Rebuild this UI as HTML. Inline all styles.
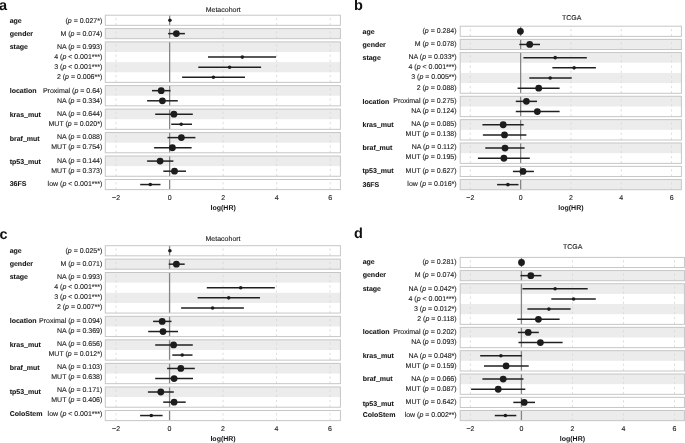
<!DOCTYPE html>
<html><head><meta charset="utf-8"><title>Forest plots</title>
<style>
html,body{margin:0;padding:0;background:#fff;}
body{width:685px;height:443px;overflow:hidden;}
svg{display:block;}
text{font-family:"Liberation Sans",Arial,Helvetica,sans-serif;text-rendering:geometricPrecision;}
.lt{font-size:14.5px;font-weight:bold;fill:#111;}
.vn{font-size:7.0px;font-weight:bold;fill:#151515;stroke:#151515;stroke-width:0.08;}
.lv{font-size:7.0px;fill:#222222;stroke:#222222;stroke-width:0.12;text-anchor:end;}
.ti{font-size:7.0px;fill:#222222;stroke:#222222;stroke-width:0.12;text-anchor:middle;}
.tk{font-size:7.0px;fill:#222222;stroke:#222222;stroke-width:0.12;text-anchor:middle;}
.ax{font-size:7.0px;font-weight:bold;fill:#151515;text-anchor:middle;}
.bx{fill:none;stroke:#c6c6c6;stroke-width:1.0;}
.gr{stroke:#dadada;stroke-width:0.9;stroke-dasharray:2.3 2.8;}
.zl{stroke:#858585;stroke-width:1.3;}
.ci{stroke:#202020;stroke-width:1.5;}
.pt{fill:#1c1c1c;}
</style></head>
<body><svg width="685" height="443" viewBox="0 0 685 443">
<rect x="0" y="0" width="685" height="443" fill="#fff"/>
<line x1="116.1" y1="25.32" x2="116.1" y2="15.2" class="gr"/>
<line x1="223.15" y1="25.32" x2="223.15" y2="15.2" class="gr"/>
<line x1="276.68" y1="25.32" x2="276.68" y2="15.2" class="gr"/>
<line x1="330.2" y1="25.32" x2="330.2" y2="15.2" class="gr"/>
<line x1="169.62" y1="15.2" x2="169.62" y2="25.32" class="zl"/>
<circle cx="169.9" cy="20.26" r="1.8" class="pt"/>
<rect x="105.3" y="15.2" width="235.1" height="10.12" class="bx"/>
<text x="9.7" y="22.86" class="vn">age</text>
<text x="102.3" y="22.56" class="lv">(<tspan font-style="italic">p</tspan> = 0.027*)</text>
<rect x="105.3" y="28.55" width="235.1" height="10.12" fill="#ececec"/>
<line x1="116.1" y1="38.67" x2="116.1" y2="28.55" class="gr"/>
<line x1="223.15" y1="38.67" x2="223.15" y2="28.55" class="gr"/>
<line x1="276.68" y1="38.67" x2="276.68" y2="28.55" class="gr"/>
<line x1="330.2" y1="38.67" x2="330.2" y2="28.55" class="gr"/>
<line x1="169.62" y1="28.55" x2="169.62" y2="38.67" class="zl"/>
<line x1="168.1" y1="33.61" x2="184.9" y2="33.61" class="ci"/>
<circle cx="176.4" cy="33.61" r="3.4" class="pt"/>
<rect x="105.3" y="28.55" width="235.1" height="10.12" class="bx"/>
<text x="9.7" y="36.14" class="vn">gender</text>
<text x="102.3" y="35.84" class="lv">M (<tspan font-style="italic">p</tspan> = 0.074)</text>
<rect x="105.3" y="41.9" width="235.1" height="10.12" fill="#ececec"/>
<rect x="105.3" y="62.14" width="235.1" height="10.12" fill="#ececec"/>
<line x1="116.1" y1="82.38" x2="116.1" y2="41.9" class="gr"/>
<line x1="223.15" y1="82.38" x2="223.15" y2="41.9" class="gr"/>
<line x1="276.68" y1="82.38" x2="276.68" y2="41.9" class="gr"/>
<line x1="330.2" y1="82.38" x2="330.2" y2="41.9" class="gr"/>
<line x1="169.62" y1="41.9" x2="169.62" y2="82.38" class="zl"/>
<line x1="208" y1="57.08" x2="276.1" y2="57.08" class="ci"/>
<circle cx="242.3" cy="57.08" r="1.8" class="pt"/>
<line x1="198.3" y1="67.2" x2="261.1" y2="67.2" class="ci"/>
<circle cx="229.6" cy="67.2" r="1.8" class="pt"/>
<line x1="182.1" y1="77.32" x2="245" y2="77.32" class="ci"/>
<circle cx="213.4" cy="77.32" r="1.8" class="pt"/>
<rect x="105.3" y="41.9" width="235.1" height="40.48" class="bx"/>
<text x="9.7" y="49.41" class="vn">stage</text>
<text x="102.3" y="49.11" class="lv">NA (<tspan font-style="italic">p</tspan> = 0.993)</text>
<text x="102.3" y="59.18" class="lv">4 (<tspan font-style="italic">p</tspan> &lt; 0.001***)</text>
<text x="102.3" y="69.24" class="lv">3 (<tspan font-style="italic">p</tspan> &lt; 0.001***)</text>
<text x="102.3" y="79.31" class="lv">2 (<tspan font-style="italic">p</tspan> = 0.006**)</text>
<rect x="105.3" y="85.61" width="235.1" height="10.12" fill="#ececec"/>
<line x1="116.1" y1="105.85" x2="116.1" y2="85.61" class="gr"/>
<line x1="223.15" y1="105.85" x2="223.15" y2="85.61" class="gr"/>
<line x1="276.68" y1="105.85" x2="276.68" y2="85.61" class="gr"/>
<line x1="330.2" y1="105.85" x2="330.2" y2="85.61" class="gr"/>
<line x1="169.62" y1="85.61" x2="169.62" y2="105.85" class="zl"/>
<line x1="152" y1="90.67" x2="170.5" y2="90.67" class="ci"/>
<circle cx="161.2" cy="90.67" r="3.4" class="pt"/>
<line x1="147.1" y1="100.79" x2="177.8" y2="100.79" class="ci"/>
<circle cx="162.4" cy="100.79" r="3.4" class="pt"/>
<rect x="105.3" y="85.61" width="235.1" height="20.24" class="bx"/>
<text x="9.7" y="92.88" class="vn">location</text>
<text x="102.3" y="92.58" class="lv">Proximal (<tspan font-style="italic">p</tspan> = 0.64)</text>
<text x="102.3" y="102.65" class="lv">NA (<tspan font-style="italic">p</tspan> = 0.334)</text>
<rect x="105.3" y="109.08" width="235.1" height="10.12" fill="#ececec"/>
<line x1="116.1" y1="129.32" x2="116.1" y2="109.08" class="gr"/>
<line x1="223.15" y1="129.32" x2="223.15" y2="109.08" class="gr"/>
<line x1="276.68" y1="129.32" x2="276.68" y2="109.08" class="gr"/>
<line x1="330.2" y1="129.32" x2="330.2" y2="109.08" class="gr"/>
<line x1="169.62" y1="109.08" x2="169.62" y2="129.32" class="zl"/>
<line x1="155.2" y1="114.14" x2="192.8" y2="114.14" class="ci"/>
<circle cx="173.9" cy="114.14" r="3.4" class="pt"/>
<line x1="171.2" y1="124.26" x2="192" y2="124.26" class="ci"/>
<circle cx="181.2" cy="124.26" r="1.8" class="pt"/>
<rect x="105.3" y="109.08" width="235.1" height="20.24" class="bx"/>
<text x="9.7" y="117.43" class="vn">kras_mut</text>
<text x="102.3" y="115.93" class="lv">NA (<tspan font-style="italic">p</tspan> = 0.644)</text>
<text x="102.3" y="125.99" class="lv">MUT (<tspan font-style="italic">p</tspan> = 0.020*)</text>
<rect x="105.3" y="132.55" width="235.1" height="10.12" fill="#ececec"/>
<line x1="116.1" y1="152.79" x2="116.1" y2="132.55" class="gr"/>
<line x1="223.15" y1="152.79" x2="223.15" y2="132.55" class="gr"/>
<line x1="276.68" y1="152.79" x2="276.68" y2="132.55" class="gr"/>
<line x1="330.2" y1="152.79" x2="330.2" y2="132.55" class="gr"/>
<line x1="169.62" y1="132.55" x2="169.62" y2="152.79" class="zl"/>
<line x1="167.5" y1="137.61" x2="195.4" y2="137.61" class="ci"/>
<circle cx="181.4" cy="137.61" r="3.4" class="pt"/>
<line x1="154.1" y1="147.73" x2="191.6" y2="147.73" class="ci"/>
<circle cx="172.4" cy="147.73" r="3.4" class="pt"/>
<rect x="105.3" y="132.55" width="235.1" height="20.24" class="bx"/>
<text x="9.7" y="140.77" class="vn">braf_mut</text>
<text x="102.3" y="139.27" class="lv">NA (<tspan font-style="italic">p</tspan> = 0.088)</text>
<text x="102.3" y="149.33" class="lv">MUT (<tspan font-style="italic">p</tspan> = 0.754)</text>
<rect x="105.3" y="156.02" width="235.1" height="10.12" fill="#ececec"/>
<line x1="116.1" y1="176.26" x2="116.1" y2="156.02" class="gr"/>
<line x1="223.15" y1="176.26" x2="223.15" y2="156.02" class="gr"/>
<line x1="276.68" y1="176.26" x2="276.68" y2="156.02" class="gr"/>
<line x1="330.2" y1="176.26" x2="330.2" y2="156.02" class="gr"/>
<line x1="169.62" y1="156.02" x2="169.62" y2="176.26" class="zl"/>
<line x1="147.1" y1="161.08" x2="173.4" y2="161.08" class="ci"/>
<circle cx="160.1" cy="161.08" r="3.4" class="pt"/>
<line x1="163.3" y1="171.2" x2="186" y2="171.2" class="ci"/>
<circle cx="174.5" cy="171.2" r="3.4" class="pt"/>
<rect x="105.3" y="156.02" width="235.1" height="20.24" class="bx"/>
<text x="9.7" y="164.11" class="vn">tp53_mut</text>
<text x="102.3" y="162.61" class="lv">NA (<tspan font-style="italic">p</tspan> = 0.144)</text>
<text x="102.3" y="172.67" class="lv">MUT (<tspan font-style="italic">p</tspan> = 0.373)</text>
<line x1="116.1" y1="189.61" x2="116.1" y2="179.49" class="gr"/>
<line x1="223.15" y1="189.61" x2="223.15" y2="179.49" class="gr"/>
<line x1="276.68" y1="189.61" x2="276.68" y2="179.49" class="gr"/>
<line x1="330.2" y1="189.61" x2="330.2" y2="179.49" class="gr"/>
<line x1="169.62" y1="179.49" x2="169.62" y2="189.61" class="zl"/>
<line x1="140.2" y1="184.55" x2="160.5" y2="184.55" class="ci"/>
<circle cx="150.3" cy="184.55" r="1.8" class="pt"/>
<rect x="105.3" y="179.49" width="235.1" height="10.12" class="bx"/>
<text x="9.7" y="186.25" class="vn">36FS</text>
<text x="102.3" y="185.95" class="lv">low (<tspan font-style="italic">p</tspan> &lt; 0.001***)</text>
<text x="223.2" y="11.85" class="ti">Metacohort</text>
<text x="-1" y="10.2" class="lt">a</text>
<text x="116.1" y="200.4" class="tk">−2</text>
<text x="169.62" y="200.4" class="tk">0</text>
<text x="223.15" y="200.4" class="tk">2</text>
<text x="276.68" y="200.4" class="tk">4</text>
<text x="330.2" y="200.4" class="tk">6</text>
<text x="223.15" y="210.2" class="ax">log(HR)</text>
<line x1="470.3" y1="36.38" x2="470.3" y2="26.2" class="gr"/>
<line x1="570.95" y1="36.38" x2="570.95" y2="26.2" class="gr"/>
<line x1="621.27" y1="36.38" x2="621.27" y2="26.2" class="gr"/>
<line x1="671.6" y1="36.38" x2="671.6" y2="26.2" class="gr"/>
<line x1="520.62" y1="26.2" x2="520.62" y2="36.38" class="zl"/>
<circle cx="520.4" cy="31.29" r="3.4" class="pt"/>
<rect x="460.2" y="26.2" width="221.2" height="10.18" class="bx"/>
<text x="362.5" y="33.69" class="vn">age</text>
<text x="456.6" y="32.89" class="lv">(<tspan font-style="italic">p</tspan> = 0.284)</text>
<rect x="460.2" y="39.38" width="221.2" height="10.18" fill="#ececec"/>
<line x1="470.3" y1="49.56" x2="470.3" y2="39.38" class="gr"/>
<line x1="570.95" y1="49.56" x2="570.95" y2="39.38" class="gr"/>
<line x1="621.27" y1="49.56" x2="621.27" y2="39.38" class="gr"/>
<line x1="671.6" y1="49.56" x2="671.6" y2="39.38" class="gr"/>
<line x1="520.62" y1="39.38" x2="520.62" y2="49.56" class="zl"/>
<line x1="519.3" y1="44.47" x2="540" y2="44.47" class="ci"/>
<circle cx="529.7" cy="44.47" r="3.4" class="pt"/>
<rect x="460.2" y="39.38" width="221.2" height="10.18" class="bx"/>
<text x="362.5" y="46.83" class="vn">gender</text>
<text x="456.6" y="46.03" class="lv">M (<tspan font-style="italic">p</tspan> = 0.078)</text>
<rect x="460.2" y="52.56" width="221.2" height="10.18" fill="#ececec"/>
<rect x="460.2" y="72.92" width="221.2" height="10.18" fill="#ececec"/>
<line x1="470.3" y1="93.28" x2="470.3" y2="52.56" class="gr"/>
<line x1="570.95" y1="93.28" x2="570.95" y2="52.56" class="gr"/>
<line x1="621.27" y1="93.28" x2="621.27" y2="52.56" class="gr"/>
<line x1="671.6" y1="93.28" x2="671.6" y2="52.56" class="gr"/>
<line x1="520.62" y1="52.56" x2="520.62" y2="93.28" class="zl"/>
<line x1="523.4" y1="57.65" x2="586.8" y2="57.65" class="ci"/>
<circle cx="555.2" cy="57.65" r="1.8" class="pt"/>
<line x1="552.4" y1="67.83" x2="595.9" y2="67.83" class="ci"/>
<circle cx="574.1" cy="67.83" r="1.8" class="pt"/>
<line x1="529.3" y1="78.01" x2="571.7" y2="78.01" class="ci"/>
<circle cx="550.2" cy="78.01" r="1.8" class="pt"/>
<line x1="517.6" y1="88.19" x2="559.6" y2="88.19" class="ci"/>
<circle cx="538.7" cy="88.19" r="3.4" class="pt"/>
<rect x="460.2" y="52.56" width="221.2" height="40.72" class="bx"/>
<text x="362.5" y="59.96" class="vn">stage</text>
<text x="456.6" y="59.16" class="lv">NA (<tspan font-style="italic">p</tspan> = 0.033*)</text>
<text x="456.6" y="69.31" class="lv">4 (<tspan font-style="italic">p</tspan> &lt; 0.001***)</text>
<text x="456.6" y="79.46" class="lv">3 (<tspan font-style="italic">p</tspan> = 0.005**)</text>
<text x="456.6" y="89.6" class="lv">2 (<tspan font-style="italic">p</tspan> = 0.088)</text>
<rect x="460.2" y="96.28" width="221.2" height="10.18" fill="#ececec"/>
<line x1="470.3" y1="116.64" x2="470.3" y2="96.28" class="gr"/>
<line x1="570.95" y1="116.64" x2="570.95" y2="96.28" class="gr"/>
<line x1="621.27" y1="116.64" x2="621.27" y2="96.28" class="gr"/>
<line x1="671.6" y1="116.64" x2="671.6" y2="96.28" class="gr"/>
<line x1="520.62" y1="96.28" x2="520.62" y2="116.64" class="zl"/>
<line x1="515.8" y1="101.37" x2="537" y2="101.37" class="ci"/>
<circle cx="526.4" cy="101.37" r="3.4" class="pt"/>
<line x1="515.8" y1="111.55" x2="559.6" y2="111.55" class="ci"/>
<circle cx="537.3" cy="111.55" r="3.4" class="pt"/>
<rect x="460.2" y="96.28" width="221.2" height="20.36" class="bx"/>
<text x="362.5" y="103.54" class="vn">location</text>
<text x="456.6" y="102.74" class="lv">Proximal (<tspan font-style="italic">p</tspan> = 0.275)</text>
<text x="456.6" y="112.89" class="lv">NA (<tspan font-style="italic">p</tspan> = 0.124)</text>
<rect x="460.2" y="119.64" width="221.2" height="10.18" fill="#ececec"/>
<line x1="470.3" y1="140" x2="470.3" y2="119.64" class="gr"/>
<line x1="570.95" y1="140" x2="570.95" y2="119.64" class="gr"/>
<line x1="621.27" y1="140" x2="621.27" y2="119.64" class="gr"/>
<line x1="671.6" y1="140" x2="671.6" y2="119.64" class="gr"/>
<line x1="520.62" y1="119.64" x2="520.62" y2="140" class="zl"/>
<line x1="482.4" y1="124.73" x2="523.7" y2="124.73" class="ci"/>
<circle cx="503.2" cy="124.73" r="3.4" class="pt"/>
<line x1="482.9" y1="134.91" x2="526.4" y2="134.91" class="ci"/>
<circle cx="504.5" cy="134.91" r="3.4" class="pt"/>
<rect x="460.2" y="119.64" width="221.2" height="20.36" class="bx"/>
<text x="362.5" y="126.83" class="vn">kras_mut</text>
<text x="456.6" y="126.03" class="lv">NA (<tspan font-style="italic">p</tspan> = 0.085)</text>
<text x="456.6" y="136.17" class="lv">MUT (<tspan font-style="italic">p</tspan> = 0.138)</text>
<rect x="460.2" y="143" width="221.2" height="10.18" fill="#ececec"/>
<line x1="470.3" y1="163.36" x2="470.3" y2="143" class="gr"/>
<line x1="570.95" y1="163.36" x2="570.95" y2="143" class="gr"/>
<line x1="621.27" y1="163.36" x2="621.27" y2="143" class="gr"/>
<line x1="671.6" y1="163.36" x2="671.6" y2="143" class="gr"/>
<line x1="520.62" y1="143" x2="520.62" y2="163.36" class="zl"/>
<line x1="485.3" y1="148.09" x2="524.6" y2="148.09" class="ci"/>
<circle cx="505" cy="148.09" r="3.4" class="pt"/>
<line x1="477.9" y1="158.27" x2="529.8" y2="158.27" class="ci"/>
<circle cx="503.9" cy="158.27" r="3.4" class="pt"/>
<rect x="460.2" y="143" width="221.2" height="20.36" class="bx"/>
<text x="362.5" y="150.11" class="vn">braf_mut</text>
<text x="456.6" y="149.31" class="lv">NA (<tspan font-style="italic">p</tspan> = 0.112)</text>
<text x="456.6" y="159.46" class="lv">MUT (<tspan font-style="italic">p</tspan> = 0.195)</text>
<line x1="470.3" y1="176.54" x2="470.3" y2="166.36" class="gr"/>
<line x1="570.95" y1="176.54" x2="570.95" y2="166.36" class="gr"/>
<line x1="621.27" y1="176.54" x2="621.27" y2="166.36" class="gr"/>
<line x1="671.6" y1="176.54" x2="671.6" y2="166.36" class="gr"/>
<line x1="520.62" y1="166.36" x2="520.62" y2="176.54" class="zl"/>
<line x1="512.9" y1="171.45" x2="533.9" y2="171.45" class="ci"/>
<circle cx="523" cy="171.45" r="3.4" class="pt"/>
<rect x="460.2" y="166.36" width="221.2" height="10.18" class="bx"/>
<text x="362.5" y="173.39" class="vn">tp53_mut</text>
<text x="456.6" y="172.59" class="lv">MUT (<tspan font-style="italic">p</tspan> = 0.627)</text>
<rect x="460.2" y="179.54" width="221.2" height="10.18" fill="#ececec"/>
<line x1="470.3" y1="189.72" x2="470.3" y2="179.54" class="gr"/>
<line x1="570.95" y1="189.72" x2="570.95" y2="179.54" class="gr"/>
<line x1="621.27" y1="189.72" x2="621.27" y2="179.54" class="gr"/>
<line x1="671.6" y1="189.72" x2="671.6" y2="179.54" class="gr"/>
<line x1="520.62" y1="179.54" x2="520.62" y2="189.72" class="zl"/>
<line x1="497.1" y1="184.63" x2="518.5" y2="184.63" class="ci"/>
<circle cx="507.9" cy="184.63" r="1.8" class="pt"/>
<rect x="460.2" y="179.54" width="221.2" height="10.18" class="bx"/>
<text x="362.5" y="186.53" class="vn">36FS</text>
<text x="456.6" y="185.73" class="lv">low (<tspan font-style="italic">p</tspan> = 0.016*)</text>
<text x="571.7" y="19.75" class="ti">TCGA</text>
<text x="354" y="10.3" class="lt">b</text>
<text x="470.3" y="200.2" class="tk">−2</text>
<text x="520.62" y="200.2" class="tk">0</text>
<text x="570.95" y="200.2" class="tk">2</text>
<text x="621.27" y="200.2" class="tk">4</text>
<text x="671.6" y="200.2" class="tk">6</text>
<text x="570.95" y="210" class="ax">log(HR)</text>
<line x1="116.1" y1="255.84" x2="116.1" y2="245.7" class="gr"/>
<line x1="223.05" y1="255.84" x2="223.05" y2="245.7" class="gr"/>
<line x1="276.52" y1="255.84" x2="276.52" y2="245.7" class="gr"/>
<line x1="330" y1="255.84" x2="330" y2="245.7" class="gr"/>
<line x1="169.57" y1="245.7" x2="169.57" y2="255.84" class="zl"/>
<circle cx="169.9" cy="250.77" r="1.8" class="pt"/>
<rect x="105.3" y="245.7" width="235.1" height="10.14" class="bx"/>
<text x="9.7" y="252.77" class="vn">age</text>
<text x="102.3" y="252.67" class="lv">(<tspan font-style="italic">p</tspan> = 0.025*)</text>
<rect x="105.3" y="259.1" width="235.1" height="10.14" fill="#ececec"/>
<line x1="116.1" y1="269.24" x2="116.1" y2="259.1" class="gr"/>
<line x1="223.05" y1="269.24" x2="223.05" y2="259.1" class="gr"/>
<line x1="276.52" y1="269.24" x2="276.52" y2="259.1" class="gr"/>
<line x1="330" y1="269.24" x2="330" y2="259.1" class="gr"/>
<line x1="169.57" y1="259.1" x2="169.57" y2="269.24" class="zl"/>
<line x1="168.7" y1="264.17" x2="184.7" y2="264.17" class="ci"/>
<circle cx="176.4" cy="264.17" r="3.4" class="pt"/>
<rect x="105.3" y="259.1" width="235.1" height="10.14" class="bx"/>
<text x="9.7" y="266.03" class="vn">gender</text>
<text x="102.3" y="265.93" class="lv">M (<tspan font-style="italic">p</tspan> = 0.071)</text>
<rect x="105.3" y="272.5" width="235.1" height="10.14" fill="#ececec"/>
<rect x="105.3" y="292.78" width="235.1" height="10.14" fill="#ececec"/>
<line x1="116.1" y1="313.06" x2="116.1" y2="272.5" class="gr"/>
<line x1="223.05" y1="313.06" x2="223.05" y2="272.5" class="gr"/>
<line x1="276.52" y1="313.06" x2="276.52" y2="272.5" class="gr"/>
<line x1="330" y1="313.06" x2="330" y2="272.5" class="gr"/>
<line x1="169.57" y1="272.5" x2="169.57" y2="313.06" class="zl"/>
<line x1="206.8" y1="287.71" x2="274.8" y2="287.71" class="ci"/>
<circle cx="240.7" cy="287.71" r="1.8" class="pt"/>
<line x1="197.6" y1="297.85" x2="260" y2="297.85" class="ci"/>
<circle cx="228.7" cy="297.85" r="1.8" class="pt"/>
<line x1="181.1" y1="307.99" x2="243.9" y2="307.99" class="ci"/>
<circle cx="212.6" cy="307.99" r="1.8" class="pt"/>
<rect x="105.3" y="272.5" width="235.1" height="40.56" class="bx"/>
<text x="9.7" y="279.29" class="vn">stage</text>
<text x="102.3" y="279.19" class="lv">NA (<tspan font-style="italic">p</tspan> = 0.993)</text>
<text x="102.3" y="289.23" class="lv">4 (<tspan font-style="italic">p</tspan> &lt; 0.001***)</text>
<text x="102.3" y="299.26" class="lv">3 (<tspan font-style="italic">p</tspan> &lt; 0.001***)</text>
<text x="102.3" y="309.3" class="lv">2 (<tspan font-style="italic">p</tspan> = 0.007**)</text>
<rect x="105.3" y="316.32" width="235.1" height="10.14" fill="#ececec"/>
<line x1="116.1" y1="336.6" x2="116.1" y2="316.32" class="gr"/>
<line x1="223.05" y1="336.6" x2="223.05" y2="316.32" class="gr"/>
<line x1="276.52" y1="336.6" x2="276.52" y2="316.32" class="gr"/>
<line x1="330" y1="336.6" x2="330" y2="316.32" class="gr"/>
<line x1="169.57" y1="316.32" x2="169.57" y2="336.6" class="zl"/>
<line x1="153.1" y1="321.39" x2="171.5" y2="321.39" class="ci"/>
<circle cx="162.2" cy="321.39" r="3.4" class="pt"/>
<line x1="148.2" y1="331.53" x2="178" y2="331.53" class="ci"/>
<circle cx="163" cy="331.53" r="3.4" class="pt"/>
<rect x="105.3" y="316.32" width="235.1" height="20.28" class="bx"/>
<text x="9.7" y="322.66" class="vn">location</text>
<text x="102.3" y="322.56" class="lv">Proximal (<tspan font-style="italic">p</tspan> = 0.094)</text>
<text x="102.3" y="332.6" class="lv">NA (<tspan font-style="italic">p</tspan> = 0.369)</text>
<rect x="105.3" y="339.86" width="235.1" height="10.14" fill="#ececec"/>
<line x1="116.1" y1="360.14" x2="116.1" y2="339.86" class="gr"/>
<line x1="223.05" y1="360.14" x2="223.05" y2="339.86" class="gr"/>
<line x1="276.52" y1="360.14" x2="276.52" y2="339.86" class="gr"/>
<line x1="330" y1="360.14" x2="330" y2="339.86" class="gr"/>
<line x1="169.57" y1="339.86" x2="169.57" y2="360.14" class="zl"/>
<line x1="155.2" y1="344.93" x2="192.8" y2="344.93" class="ci"/>
<circle cx="173.6" cy="344.93" r="3.4" class="pt"/>
<line x1="172.3" y1="355.07" x2="192.5" y2="355.07" class="ci"/>
<circle cx="182.2" cy="355.07" r="1.8" class="pt"/>
<rect x="105.3" y="339.86" width="235.1" height="20.28" class="bx"/>
<text x="9.7" y="347.16" class="vn">kras_mut</text>
<text x="102.3" y="345.86" class="lv">NA (<tspan font-style="italic">p</tspan> = 0.656)</text>
<text x="102.3" y="355.89" class="lv">MUT (<tspan font-style="italic">p</tspan> = 0.012*)</text>
<rect x="105.3" y="363.4" width="235.1" height="10.14" fill="#ececec"/>
<line x1="116.1" y1="383.68" x2="116.1" y2="363.4" class="gr"/>
<line x1="223.05" y1="383.68" x2="223.05" y2="363.4" class="gr"/>
<line x1="276.52" y1="383.68" x2="276.52" y2="363.4" class="gr"/>
<line x1="330" y1="383.68" x2="330" y2="363.4" class="gr"/>
<line x1="169.57" y1="363.4" x2="169.57" y2="383.68" class="zl"/>
<line x1="167.1" y1="368.47" x2="194.8" y2="368.47" class="ci"/>
<circle cx="180.8" cy="368.47" r="3.4" class="pt"/>
<line x1="155.2" y1="378.61" x2="193" y2="378.61" class="ci"/>
<circle cx="174.1" cy="378.61" r="3.4" class="pt"/>
<rect x="105.3" y="363.4" width="235.1" height="20.28" class="bx"/>
<text x="9.7" y="370.46" class="vn">braf_mut</text>
<text x="102.3" y="369.16" class="lv">NA (<tspan font-style="italic">p</tspan> = 0.103)</text>
<text x="102.3" y="379.19" class="lv">MUT (<tspan font-style="italic">p</tspan> = 0.638)</text>
<rect x="105.3" y="386.94" width="235.1" height="10.14" fill="#ececec"/>
<line x1="116.1" y1="407.22" x2="116.1" y2="386.94" class="gr"/>
<line x1="223.05" y1="407.22" x2="223.05" y2="386.94" class="gr"/>
<line x1="276.52" y1="407.22" x2="276.52" y2="386.94" class="gr"/>
<line x1="330" y1="407.22" x2="330" y2="386.94" class="gr"/>
<line x1="169.57" y1="386.94" x2="169.57" y2="407.22" class="zl"/>
<line x1="147.9" y1="392.01" x2="173.8" y2="392.01" class="ci"/>
<circle cx="160.8" cy="392.01" r="3.4" class="pt"/>
<line x1="163.2" y1="402.15" x2="185.7" y2="402.15" class="ci"/>
<circle cx="174.1" cy="402.15" r="3.4" class="pt"/>
<rect x="105.3" y="386.94" width="235.1" height="20.28" class="bx"/>
<text x="9.7" y="393.75" class="vn">tp53_mut</text>
<text x="102.3" y="392.45" class="lv">NA (<tspan font-style="italic">p</tspan> = 0.171)</text>
<text x="102.3" y="402.49" class="lv">MUT (<tspan font-style="italic">p</tspan> = 0.406)</text>
<line x1="116.1" y1="420.62" x2="116.1" y2="410.48" class="gr"/>
<line x1="223.05" y1="420.62" x2="223.05" y2="410.48" class="gr"/>
<line x1="276.52" y1="420.62" x2="276.52" y2="410.48" class="gr"/>
<line x1="330" y1="420.62" x2="330" y2="410.48" class="gr"/>
<line x1="169.57" y1="410.48" x2="169.57" y2="420.62" class="zl"/>
<line x1="140.1" y1="415.55" x2="162.6" y2="415.55" class="ci"/>
<circle cx="151.3" cy="415.55" r="1.8" class="pt"/>
<rect x="105.3" y="410.48" width="235.1" height="10.14" class="bx"/>
<text x="9.7" y="415.85" class="vn">ColoStem</text>
<text x="102.3" y="415.75" class="lv">low (<tspan font-style="italic">p</tspan> &lt; 0.001***)</text>
<text x="223.05" y="241" class="ti">Metacohort</text>
<text x="-0.6" y="238.7" class="lt">c</text>
<text x="116.1" y="430.9" class="tk">−2</text>
<text x="169.57" y="430.9" class="tk">0</text>
<text x="223.05" y="430.9" class="tk">2</text>
<text x="276.52" y="430.9" class="tk">4</text>
<text x="330" y="430.9" class="tk">6</text>
<text x="223.05" y="440.7" class="ax">log(HR)</text>
<line x1="470.4" y1="267.56" x2="470.4" y2="257.4" class="gr"/>
<line x1="572.45" y1="267.56" x2="572.45" y2="257.4" class="gr"/>
<line x1="623.47" y1="267.56" x2="623.47" y2="257.4" class="gr"/>
<line x1="674.5" y1="267.56" x2="674.5" y2="257.4" class="gr"/>
<line x1="521.42" y1="257.4" x2="521.42" y2="267.56" class="zl"/>
<circle cx="521.5" cy="262.48" r="3.4" class="pt"/>
<rect x="460.2" y="257.4" width="224.2" height="10.16" class="bx"/>
<text x="362.7" y="264.28" class="vn">age</text>
<text x="456.6" y="264.28" class="lv">(<tspan font-style="italic">p</tspan> = 0.281)</text>
<rect x="460.2" y="270.56" width="224.2" height="10.16" fill="#ececec"/>
<line x1="470.4" y1="280.72" x2="470.4" y2="270.56" class="gr"/>
<line x1="572.45" y1="280.72" x2="572.45" y2="270.56" class="gr"/>
<line x1="623.47" y1="280.72" x2="623.47" y2="270.56" class="gr"/>
<line x1="674.5" y1="280.72" x2="674.5" y2="270.56" class="gr"/>
<line x1="521.42" y1="270.56" x2="521.42" y2="280.72" class="zl"/>
<line x1="520.5" y1="275.64" x2="541.4" y2="275.64" class="ci"/>
<circle cx="530.8" cy="275.64" r="3.4" class="pt"/>
<rect x="460.2" y="270.56" width="224.2" height="10.16" class="bx"/>
<text x="362.7" y="277.45" class="vn">gender</text>
<text x="456.6" y="277.45" class="lv">M (<tspan font-style="italic">p</tspan> = 0.074)</text>
<rect x="460.2" y="283.72" width="224.2" height="10.16" fill="#ececec"/>
<rect x="460.2" y="304.04" width="224.2" height="10.16" fill="#ececec"/>
<line x1="470.4" y1="324.36" x2="470.4" y2="283.72" class="gr"/>
<line x1="572.45" y1="324.36" x2="572.45" y2="283.72" class="gr"/>
<line x1="623.47" y1="324.36" x2="623.47" y2="283.72" class="gr"/>
<line x1="674.5" y1="324.36" x2="674.5" y2="283.72" class="gr"/>
<line x1="521.42" y1="283.72" x2="521.42" y2="324.36" class="zl"/>
<line x1="522.5" y1="288.8" x2="587.7" y2="288.8" class="ci"/>
<circle cx="555.1" cy="288.8" r="1.8" class="pt"/>
<line x1="551.3" y1="298.96" x2="595.8" y2="298.96" class="ci"/>
<circle cx="573.6" cy="298.96" r="1.8" class="pt"/>
<line x1="527.4" y1="309.12" x2="570.6" y2="309.12" class="ci"/>
<circle cx="548.9" cy="309.12" r="1.8" class="pt"/>
<line x1="517.3" y1="319.28" x2="559.6" y2="319.28" class="ci"/>
<circle cx="538.4" cy="319.28" r="3.4" class="pt"/>
<rect x="460.2" y="283.72" width="224.2" height="40.64" class="bx"/>
<text x="362.7" y="290.62" class="vn">stage</text>
<text x="456.6" y="290.62" class="lv">NA (<tspan font-style="italic">p</tspan> = 0.042*)</text>
<text x="456.6" y="300.78" class="lv">4 (<tspan font-style="italic">p</tspan> &lt; 0.001***)</text>
<text x="456.6" y="310.95" class="lv">3 (<tspan font-style="italic">p</tspan> = 0.012*)</text>
<text x="456.6" y="321.12" class="lv">2 (<tspan font-style="italic">p</tspan> = 0.118)</text>
<rect x="460.2" y="327.36" width="224.2" height="10.16" fill="#ececec"/>
<line x1="470.4" y1="347.68" x2="470.4" y2="327.36" class="gr"/>
<line x1="572.45" y1="347.68" x2="572.45" y2="327.36" class="gr"/>
<line x1="623.47" y1="347.68" x2="623.47" y2="327.36" class="gr"/>
<line x1="674.5" y1="347.68" x2="674.5" y2="327.36" class="gr"/>
<line x1="521.42" y1="327.36" x2="521.42" y2="347.68" class="zl"/>
<line x1="517.9" y1="332.44" x2="538.8" y2="332.44" class="ci"/>
<circle cx="528.2" cy="332.44" r="3.4" class="pt"/>
<line x1="518.5" y1="342.6" x2="562.6" y2="342.6" class="ci"/>
<circle cx="540.4" cy="342.6" r="3.4" class="pt"/>
<rect x="460.2" y="327.36" width="224.2" height="20.32" class="bx"/>
<text x="362.7" y="334.29" class="vn">location</text>
<text x="456.6" y="334.29" class="lv">Proximal (<tspan font-style="italic">p</tspan> = 0.202)</text>
<text x="456.6" y="344.45" class="lv">NA (<tspan font-style="italic">p</tspan> = 0.093)</text>
<rect x="460.2" y="350.68" width="224.2" height="10.16" fill="#ececec"/>
<line x1="470.4" y1="371" x2="470.4" y2="350.68" class="gr"/>
<line x1="572.45" y1="371" x2="572.45" y2="350.68" class="gr"/>
<line x1="623.47" y1="371" x2="623.47" y2="350.68" class="gr"/>
<line x1="674.5" y1="371" x2="674.5" y2="350.68" class="gr"/>
<line x1="521.42" y1="350.68" x2="521.42" y2="371" class="zl"/>
<line x1="480.2" y1="355.76" x2="521.9" y2="355.76" class="ci"/>
<circle cx="500.9" cy="355.76" r="1.8" class="pt"/>
<line x1="484" y1="365.92" x2="528.7" y2="365.92" class="ci"/>
<circle cx="506.1" cy="365.92" r="3.4" class="pt"/>
<rect x="460.2" y="350.68" width="224.2" height="20.32" class="bx"/>
<text x="362.7" y="357.62" class="vn">kras_mut</text>
<text x="456.6" y="357.62" class="lv">NA (<tspan font-style="italic">p</tspan> = 0.048*)</text>
<text x="456.6" y="367.79" class="lv">MUT (<tspan font-style="italic">p</tspan> = 0.159)</text>
<rect x="460.2" y="374" width="224.2" height="10.16" fill="#ececec"/>
<line x1="470.4" y1="394.32" x2="470.4" y2="374" class="gr"/>
<line x1="572.45" y1="394.32" x2="572.45" y2="374" class="gr"/>
<line x1="623.47" y1="394.32" x2="623.47" y2="374" class="gr"/>
<line x1="674.5" y1="394.32" x2="674.5" y2="374" class="gr"/>
<line x1="521.42" y1="374" x2="521.42" y2="394.32" class="zl"/>
<line x1="482.4" y1="379.08" x2="523.5" y2="379.08" class="ci"/>
<circle cx="503.2" cy="379.08" r="3.4" class="pt"/>
<line x1="471.1" y1="389.24" x2="525.3" y2="389.24" class="ci"/>
<circle cx="498.2" cy="389.24" r="3.4" class="pt"/>
<rect x="460.2" y="374" width="224.2" height="20.32" class="bx"/>
<text x="362.7" y="380.96" class="vn">braf_mut</text>
<text x="456.6" y="380.96" class="lv">NA (<tspan font-style="italic">p</tspan> = 0.066)</text>
<text x="456.6" y="391.12" class="lv">MUT (<tspan font-style="italic">p</tspan> = 0.087)</text>
<line x1="470.4" y1="407.48" x2="470.4" y2="397.32" class="gr"/>
<line x1="572.45" y1="407.48" x2="572.45" y2="397.32" class="gr"/>
<line x1="623.47" y1="407.48" x2="623.47" y2="397.32" class="gr"/>
<line x1="674.5" y1="407.48" x2="674.5" y2="397.32" class="gr"/>
<line x1="521.42" y1="397.32" x2="521.42" y2="407.48" class="zl"/>
<line x1="513.3" y1="402.4" x2="535" y2="402.4" class="ci"/>
<circle cx="524.2" cy="402.4" r="3.4" class="pt"/>
<rect x="460.2" y="397.32" width="224.2" height="10.16" class="bx"/>
<text x="362.7" y="405.89" class="vn">tp53_mut</text>
<text x="456.6" y="404.29" class="lv">MUT (<tspan font-style="italic">p</tspan> = 0.642)</text>
<rect x="460.2" y="410.48" width="224.2" height="10.16" fill="#ececec"/>
<line x1="470.4" y1="420.64" x2="470.4" y2="410.48" class="gr"/>
<line x1="572.45" y1="420.64" x2="572.45" y2="410.48" class="gr"/>
<line x1="623.47" y1="420.64" x2="623.47" y2="410.48" class="gr"/>
<line x1="674.5" y1="420.64" x2="674.5" y2="410.48" class="gr"/>
<line x1="521.42" y1="410.48" x2="521.42" y2="420.64" class="zl"/>
<line x1="494.8" y1="415.56" x2="516.3" y2="415.56" class="ci"/>
<circle cx="505.4" cy="415.56" r="1.8" class="pt"/>
<rect x="460.2" y="410.48" width="224.2" height="10.16" class="bx"/>
<text x="362.7" y="417.46" class="vn">ColoStem</text>
<text x="456.6" y="417.46" class="lv">low (<tspan font-style="italic">p</tspan> = 0.002**)</text>
<text x="572.65" y="248.6" class="ti">TCGA</text>
<text x="354" y="238" class="lt">d</text>
<text x="470.4" y="431.1" class="tk">−2</text>
<text x="521.42" y="431.1" class="tk">0</text>
<text x="572.45" y="431.1" class="tk">2</text>
<text x="623.47" y="431.1" class="tk">4</text>
<text x="674.5" y="431.1" class="tk">6</text>
<text x="572.45" y="440.9" class="ax">log(HR)</text>
</svg></body></html>
